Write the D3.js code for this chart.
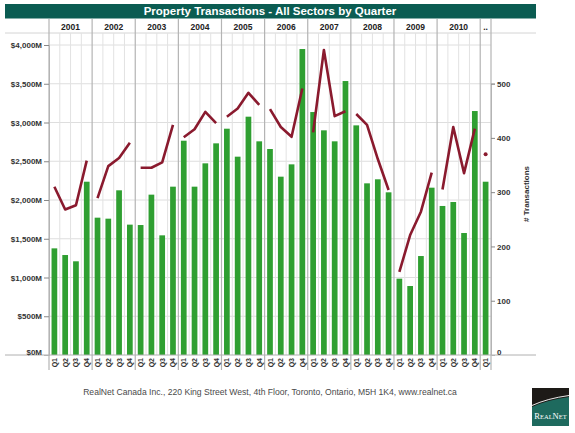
<!DOCTYPE html>
<html>
<head>
<meta charset="utf-8">
<script src="https://cdn.jsdelivr.net/npm/d3@7/dist/d3.min.js"></script>
<style>
  html, body { margin: 0; padding: 0; background: #fff; }
  svg { display: block; font-family: "Liberation Sans", Arial, sans-serif; }
</style>
</head>
<body>
<svg id="chart" width="575" height="433"></svg>
<script>
// ---- data ----
const years = ["2001","2002","2003","2004","2005","2006","2007","2008","2009","2010",".."];
const quarterLabels = [
  "Q1","Q2","Q3","Q4","Q1","Q2","Q3","Q4","Q1","Q2","Q3","Q4","Q1","Q2","Q3","Q4",
  "Q1","Q2","Q3","Q4","Q1","Q2","Q3","Q4","Q1","Q2","Q3","Q4","Q1","Q2","Q3","Q4",
  "Q1","Q2","Q3","Q4","Q1","Q2","Q3","Q4","Q1"];
const dollarValues = [
  1376,1290,1209,2236, 1772,1759,2125,1682, 1677,2069,1544,2172, 2765,2172,2473,2731,
  2920,2559,3075,2757, 2658,2301,2460,3948, 3135,2899,2757,3535, 2963,2215,2267,2099,
  985,890,1277,2159, 1923,1974,1574,3148, 2236];
const transactions = [
  310,268,276,358, 289,348,363,391, 345,345,355,424, 401,416,448,427,
  439,454,483,461, 453,420,402,491, 410,562,440,449, 444,424,361,304,
  153,221,264,336, 305,420,335,417, 370];
const leftTicks = [0,500,1000,1500,2000,2500,3000,3500,4000];
const rightTicks = [0,100,200,300,400,500];
const titleText = "Property Transactions - All Sectors by Quarter";
const rightAxisTitle = "# Transactions";
const footerText = "RealNet Canada Inc., 220 King Street West, 4th Floor, Toronto, Ontario, M5H 1K4, www.realnet.ca";

// ---- layout ----
const svg = d3.select("#chart");
const L = 49, R = 491, T = 33, B = 355;
const n = dollarValues.length;
const idx = d3.range(n);

const x = d3.scaleBand().domain(idx).range([L, R]).paddingInner(0.47).paddingOuter(0.235);
const step = x.step();
const yL = d3.scaleLinear().domain([0, 4000]).range([B, 45]);
const yR = d3.scaleLinear().domain([0, 500]).range([B, 83.6]);

// title bar
svg.append("rect").attr("x", 5).attr("y", 4).attr("width", 531).attr("height", 14.5).attr("fill", "#0b5c52");
svg.append("text").attr("x", 270).attr("y", 15.3).attr("text-anchor", "middle")
  .attr("fill", "#fff").attr("font-weight", "bold").attr("font-size", 11.5).text(titleText);

// horizontal grid
svg.append("g").selectAll("line").data(leftTicks.filter(d => d > 0)).join("line")
  .attr("x1", L).attr("x2", R).attr("y1", d => yL(d)).attr("y2", d => yL(d))
  .attr("stroke", "#dedede").attr("stroke-width", 1);
// header bottom line
svg.append("line").attr("x1", 5).attr("x2", 536).attr("y1", T).attr("y2", T)
  .attr("stroke", "#d4d4d4").attr("stroke-width", 1);

// vertical quarter grid
svg.append("g").selectAll("line").data(idx.filter(i => i % 4 !== 0)).join("line")
  .attr("x1", i => x(i) - step * 0.235).attr("x2", i => x(i) - step * 0.235)
  .attr("y1", T).attr("y2", B)
  .attr("stroke", "#e2e2e2").attr("stroke-width", 1);

// year separators
svg.append("g").selectAll("line").data(d3.range(0, n, 4).concat([n])).join("line")
  .attr("x1", i => L + i * step).attr("x2", i => L + i * step)
  .attr("y1", 19).attr("y2", 370)
  .attr("stroke", "#b4b4b4").attr("stroke-width", 1.2);

// year labels
svg.append("g").selectAll("text").data(years).join("text")
  .attr("x", (d, k) => {
    const s = k * 4, e = Math.min(n, s + 4);
    return L + (s + e) / 2 * step;
  })
  .attr("y", 29.5).attr("text-anchor", "middle")
  .attr("font-size", 8.5).attr("font-weight", "bold").attr("fill", "#222").text(d => d);

// bars
svg.append("g").selectAll("rect").data(dollarValues).join("rect")
  .attr("x", (d, i) => x(i)).attr("width", x.bandwidth())
  .attr("y", d => yL(d)).attr("height", d => B - yL(d))
  .attr("fill", "#2f9f31");

// lines, one segment per year
const line = d3.line().x(d => x(d.i) + x.bandwidth() / 2).y(d => yR(d.v));
const pts = transactions.map((v, i) => ({ i, v, g: Math.floor(i / 4) }));
const groups = d3.groups(pts, d => d.g);
svg.append("g").selectAll("path").data(groups.filter(g => g[1].length > 1)).join("path")
  .attr("d", g => line(g[1])).attr("fill", "none")
  .attr("stroke", "#8a1a2e").attr("stroke-width", 2.6).attr("stroke-linejoin", "round");
svg.append("g").selectAll("circle").data(groups.filter(g => g[1].length === 1)).join("circle")
  .attr("cx", g => x(g[1][0].i) + x.bandwidth() / 2).attr("cy", g => yR(g[1][0].v))
  .attr("r", 2).attr("fill", "#8a1a2e");

// baseline
svg.append("line").attr("x1", 5).attr("x2", 536).attr("y1", B).attr("y2", B)
  .attr("stroke", "#b0b0b0").attr("stroke-width", 1);

// left axis
const fmt = d3.format(",");
const gL = svg.append("g").attr("transform", `translate(${L},0)`)
  .call(d3.axisLeft(yL).tickValues(leftTicks).tickSize(5).tickPadding(2).tickFormat(d => "$" + fmt(d) + "M"));
gL.select(".domain").attr("stroke", "#b4b4b4");
gL.selectAll(".tick line").attr("stroke", "#888");
gL.selectAll(".tick text").attr("font-size", 8).attr("font-weight", "bold").attr("fill", "#333")
  .attr("font-family", "'Liberation Sans', Arial, sans-serif");
gL.selectAll(".tick").filter(d => d === 0).select("text").attr("dy", "-0.1em");
gL.selectAll(".tick").filter(d => d === 0).select("line").remove();

// right axis
const gR = svg.append("g").attr("transform", `translate(${R},0)`)
  .call(d3.axisRight(yR).tickValues(rightTicks).tickSize(4).tickPadding(2));
gR.select(".domain").attr("stroke", "#b4b4b4");
gR.selectAll(".tick line").attr("stroke", "#888");
gR.selectAll(".tick text").attr("font-size", 8).attr("font-weight", "bold").attr("fill", "#333")
  .attr("font-family", "'Liberation Sans', Arial, sans-serif");
gR.selectAll(".tick").filter(d => d === 0).select("text").attr("dy", "-0.1em");
gR.selectAll(".tick").filter(d => d === 0).select("line").remove();

svg.append("text").attr("transform", "translate(529,194) rotate(-90)")
  .attr("text-anchor", "middle").attr("font-size", 8).attr("font-weight", "bold").attr("fill", "#333")
  .text(rightAxisTitle);

// quarter labels
svg.append("g").selectAll("text").data(quarterLabels).join("text")
  .attr("transform", (d, i) => `translate(${x(i) + x.bandwidth() / 2 + 2.5},358) rotate(-90)`)
  .attr("text-anchor", "end").attr("font-size", 7).attr("font-weight", "bold").attr("fill", "#333")
  .text(d => d);

// footer
svg.append("text").attr("x", 270).attr("y", 395).attr("text-anchor", "middle")
  .attr("font-size", 8.6).attr("fill", "#4a4a4a").text(footerText);

// logo
const lg = svg.append("g").attr("transform", "translate(532,388)");
lg.append("rect").attr("width", 37).attr("height", 38).attr("fill", "#1d1a17");
lg.append("path").attr("d", "M0,38 L0,19 Q15,12 37,9 L37,38 Z").attr("fill", "#1e6a5e");
lg.append("path").attr("d", "M0,17.5 Q15,10.5 37,7.5").attr("fill", "none").attr("stroke", "#fff").attr("stroke-width", 0.9);
lg.append("text").attr("x", 18.5).attr("y", 31).attr("text-anchor", "middle")
  .attr("font-family", "'Liberation Serif', 'DejaVu Serif', serif").attr("font-size", 8.5)
  .attr("fill", "#fff")
  .html('R<tspan font-size="6.5">EAL</tspan>N<tspan font-size="6.5">ET</tspan>');
</script>
</body>
</html>
